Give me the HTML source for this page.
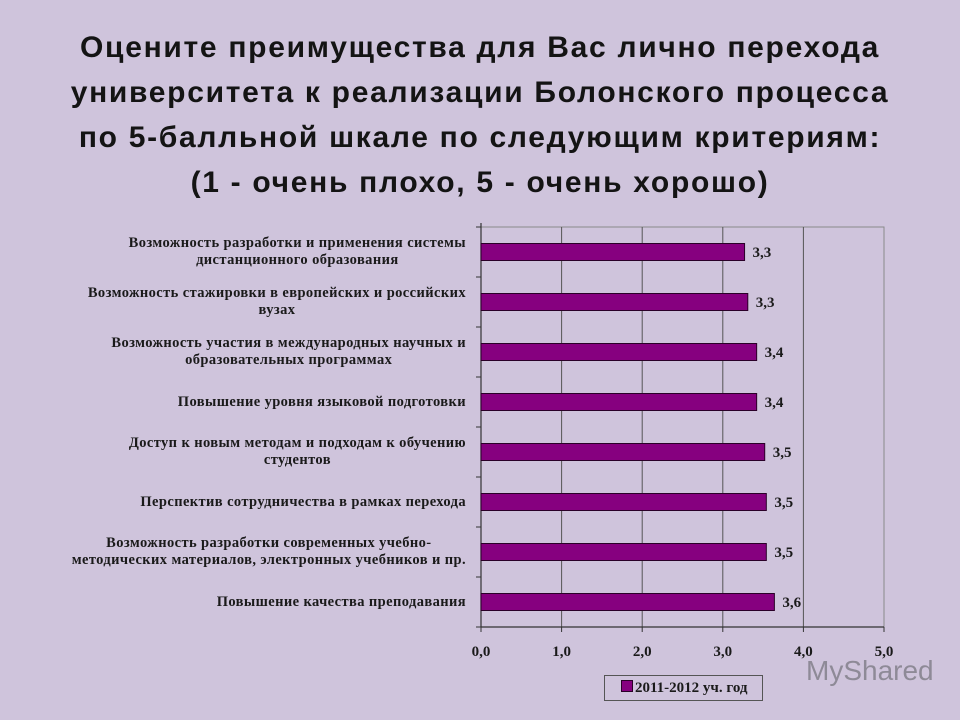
<!DOCTYPE html>
<html><head><meta charset="utf-8"><style>
body{margin:0;width:960px;height:720px;background:#cfc4dc;overflow:hidden;position:relative;font-family:"Liberation Sans","Noto Sans CJK SC",sans-serif}
#title{position:absolute;left:0;width:960px;top:25px;text-align:center;font-weight:bold;font-size:30px;letter-spacing:1.7px;line-height:45px;color:#141414}
.lab{position:absolute;right:494px;text-align:center;white-space:nowrap;font-family:"Liberation Serif",serif;font-weight:bold;font-size:14.5px;letter-spacing:0.4px;line-height:17px;color:#1a1a1a}
svg{position:absolute;left:0;top:0}
</style></head><body>
<div id="title">Оцените преимущества для Вас лично перехода<br>университета к реализации Болонского процесса<br>по 5-балльной шкале по следующим критериям:<br>(1 - очень плохо, 5 - очень хорошо)</div>
<svg id="chart" width="960" height="720"></svg>
<script>
const categories=["Возможность разработки и применения системы|дистанционного образования","Возможность стажировки в европейских и российских|вузах","Возможность участия в международных научных и|образовательных программах","Повышение уровня языковой подготовки","Доступ к новым методам и подходам к обучению|студентов","Перспектив сотрудничества в рамках перехода","Возможность разработки современных учебно-|методических материалов, электронных учебников и пр.","Повышение качества преподавания"];
const values=[3.27,3.31,3.42,3.42,3.52,3.54,3.54,3.64];
const valueLabels=["3,3","3,3","3,4","3,4","3,5","3,5","3,5","3,6"];
const ticks=[0,1,2,3,4,5];
const tickLabels=["0,0","1,0","2,0","3,0","4,0","5,0"];
const NS="http://www.w3.org/2000/svg";
const svg=document.getElementById('chart');
const X0=481,X1=884,Y0=227,Y1=627;
const x=v=>X0+(X1-X0)*v/5;
const band=(Y1-Y0)/categories.length;
const yc=i=>Y0+band*(i+0.5);
function mk(t,a){const e=document.createElementNS(NS,t);for(const k in a)e.setAttribute(k,a[k]);svg.appendChild(e);return e;}
const fr=mk('rect',{x:X0,y:Y0,width:X1-X0,height:Y1-Y0,fill:'none',stroke:'#8a8a8a','stroke-width':1});


ticks.forEach((t,i)=>{
  if(t>0&&t<5){const g=mk('line',{x1:x(t),x2:x(t),y1:Y0,y2:Y1,stroke:'#555','stroke-width':1});
  
  }
  const tk=mk('line',{x1:x(t),x2:x(t),y1:Y1,y2:Y1+5,stroke:'#333'});
  
  
  const tl=mk('text',{x:x(t),y:Y1+29,'text-anchor':'middle','font-family':'Liberation Serif, serif','font-weight':'bold','font-size':15,fill:'#1a1a1a'});
  tl.textContent=tickLabels[i];
  
  
});
const ax=mk('line',{x1:X0,x2:X0,y1:Y0-4,y2:Y1,stroke:'#333','stroke-width':1.2});


const bx=mk('line',{x1:X0,x2:X1,y1:Y1,y2:Y1,stroke:'#333','stroke-width':1.2});


for(let i=0;i<=categories.length;i++){
  const t=mk('line',{x1:X0-5,x2:X0,y1:Y0+band*i,y2:Y0+band*i,stroke:'#333'});
  
  
}
categories.forEach((c,i)=>{
  const b=mk('rect',{x:X0,y:yc(i)-8.5,width:x(values[i])-X0,height:17,fill:'#86007f',stroke:'#2a0028','stroke-width':1});
  
  
  const v=mk('text',{x:x(values[i])+8,y:yc(i)+5,'font-family':'Liberation Serif, serif','font-weight':'bold','font-size':15,fill:'#1a1a1a'});
  v.textContent=valueLabels[i];
  
  
  const d=document.createElement('div');
  d.className='lab';
  const lines=c.split('|');
  d.innerHTML=lines.join('<br>');
  d.style.top=(yc(i)-lines.length*8.5)+'px';
  
  
  document.body.appendChild(d);
});
</script>
<div style="position:absolute;left:604px;top:675px;width:159px;height:26px;border:1px solid #555;box-sizing:border-box;font-family:'Liberation Serif',serif;font-weight:bold;font-size:15px;line-height:24px;color:#1a1a1a;padding-left:16px;white-space:nowrap">
<span style="display:inline-block;width:10px;height:10px;background:#86007f;border:1px solid #2a0028;margin-right:2px"></span>2011-2012 уч. год</div>
<div style="position:absolute;left:806px;top:655px;font-size:28px;color:#7f7c86;opacity:0.8">MyShared</div>
</body></html>
